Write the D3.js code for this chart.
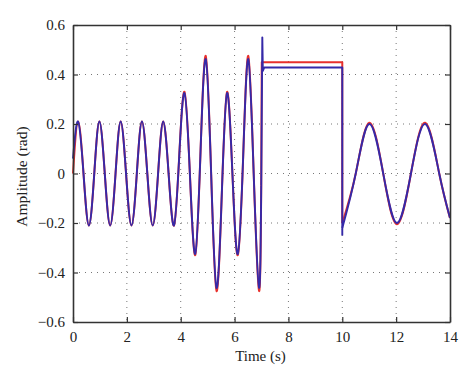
<!DOCTYPE html>
<html>
<head>
<meta charset="utf-8">
<script src="https://cdn.jsdelivr.net/npm/d3@7"></script>
<style>
  body { margin: 0; background: #fff; }
  svg { display: block; font-family: "Liberation Serif", "DejaVu Serif", serif; }
</style>
</head>
<body>
<div id="chart"></div>
<script>
// sine part, 0 - 7 s (quarter period samples)
const waveT = [0, 0.19, 0.39, 0.59, 0.79, 0.98, 1.18, 1.38, 1.58, 1.77, 1.97, 2.17, 2.37, 2.56, 2.76, 2.96,
               3.16, 3.35, 3.55, 3.75, 3.94, 4.14, 4.34, 4.54, 4.73, 4.93, 5.13, 5.33, 5.53, 5.72, 5.92,
               6.12, 6.32, 6.51, 6.71, 6.91, 6.99];
const refWave = [0, 0.21, 0, -0.21, 0, 0.21, 0, -0.21, 0, 0.21, 0, -0.21, 0, 0.21, 0, -0.21,
                 0, 0.21, 0, -0.21, 0.06, 0.33, 0, -0.33, 0.07, 0.475, 0, -0.475, -0.07, 0.33, 0,
                 -0.33, 0.07, 0.475, 0, -0.475, -0.05];
const measWave = [0.06, 0.21, 0, -0.21, 0, 0.21, 0, -0.21, 0, 0.21, 0, -0.21, 0, 0.21, 0, -0.21,
                  0, 0.21, 0, -0.21, 0.06, 0.325, 0, -0.325, 0.07, 0.462, 0, -0.462, -0.07, 0.325, 0,
                  -0.325, 0.07, 0.462, 0, -0.462, -0.05];

// step part, 7 - 10 s
const refStepT = [6.99, 7.01, 10.0, 10.0];
const refStep = [-0.05, 0.45, 0.45, -0.2];
const measStepT = [6.99, 7.03, 7.05, 7.1, 10.0, 10.0];
const measStep = [-0.05, 0.55, 0.415, 0.428, 0.428, -0.25];

// tail sine, 10 - 14 s
const tailT = [10.0, 10.5, 11.0, 11.52, 12.03, 12.55, 13.08, 13.6, 14.0];
const refTail = [-0.2, 0, 0.205, 0, -0.205, 0, 0.205, 0, -0.18];
const measTail = [-0.22, 0, 0.2, 0, -0.2, 0, 0.2, 0, -0.18];

const xTicks = [0, 2, 4, 6, 8, 10, 12, 14];
const yTicks = [-0.6, -0.4, -0.2, 0, 0.2, 0.4, 0.6];

const W = 474, H = 383;
const margin = {top: 25, right: 24, bottom: 61, left: 73};
const width = W - margin.left - margin.right,
      height = H - margin.top - margin.bottom;

const svg = d3.select('#chart').append('svg')
  .attr('width', W)
  .attr('height', H);

const g = svg.append('g')
  .attr('transform', `translate(${margin.left},${margin.top})`);

const x = d3.scaleLinear().domain([0, 14]).range([0, width]);
const y = d3.scaleLinear().domain([-0.6, 0.6]).range([height, 0]);

// dotted grid
g.append('g').selectAll('line').data(xTicks.slice(1, -1)).join('line')
  .attr('x1', d => x(d)).attr('x2', d => x(d))
  .attr('y1', 0).attr('y2', height)
  .attr('stroke', '#777').attr('stroke-width', 1)
  .attr('stroke-dasharray', '1,5');
g.append('g').selectAll('line').data(yTicks.slice(1, -1)).join('line')
  .attr('x1', 0).attr('x2', width)
  .attr('y1', d => y(d)).attr('y2', d => y(d))
  .attr('stroke', '#777').attr('stroke-width', 1)
  .attr('stroke-dasharray', '1,5');

const lineFor = (curve) => d3.line()
  .x(d => x(d[0])).y(d => y(d[1]))
  .curve(curve);
const smooth = lineFor(d3.curveNatural);
const straight = lineFor(d3.curveLinear);
const zip = (ts, vs) => ts.map((t, i) => [t, vs[i]]);

function drawSeries(colour, w, waveV, stepT, stepV, tailV) {
  const s = g.append('g').attr('fill', 'none').attr('stroke', colour)
    .attr('stroke-width', w).attr('stroke-linejoin', 'round');
  s.append('path').attr('d', smooth(zip(waveT, waveV)));
  s.append('path').attr('d', straight(zip(stepT, stepV)));
  s.append('path').attr('d', smooth(zip(tailT, tailV)));
}

// reference (red), then measured (blue) on top
drawSeries('#e8302c', 2, refWave, refStepT, refStep, refTail);
drawSeries('#3529a8', 1.9, measWave, measStepT, measStep, measTail);

// axes: box with inward ticks
const axB = g.append('g').attr('transform', `translate(0,${height})`)
  .call(d3.axisBottom(x).tickValues(xTicks).tickSizeInner(-5).tickSizeOuter(0).tickPadding(9));
const axT = g.append('g')
  .call(d3.axisTop(x).tickValues(xTicks).tickSizeInner(-5).tickSizeOuter(0).tickFormat(''));
const axL = g.append('g')
  .call(d3.axisLeft(y).tickValues(yTicks).tickSizeInner(-5).tickSizeOuter(0).tickPadding(8)
    .tickFormat(d => d === 0 ? '0' : d3.format('.1f')(d).replace('-', '\u2212')));
const axR = g.append('g').attr('transform', `translate(${width},0)`)
  .call(d3.axisRight(y).tickValues(yTicks).tickSizeInner(-5).tickSizeOuter(0).tickFormat(''));

[axB, axT, axL, axR].forEach(a => {
  a.select('.domain').attr('stroke', '#333').attr('stroke-width', 1.6);
  a.selectAll('.tick line').attr('stroke', '#333').attr('stroke-width', 1.2);
  a.selectAll('text').attr('font-size', 15).attr('fill', '#222')
    .attr('font-family', '"Liberation Serif", "DejaVu Serif", serif');
});

// axis titles
svg.append('text')
  .attr('x', margin.left + width / 2 - 1)
  .attr('y', 361)
  .attr('text-anchor', 'middle')
  .attr('font-size', 15).attr('fill', '#222')
  .text('Time (s)');

svg.append('text')
  .attr('transform', `translate(27,${margin.top + height / 2 + 3}) rotate(-90)`)
  .attr('text-anchor', 'middle')
  .attr('font-size', 15.5).attr('fill', '#222')
  .text('Amplitude (rad)');
</script>
</body>
</html>
